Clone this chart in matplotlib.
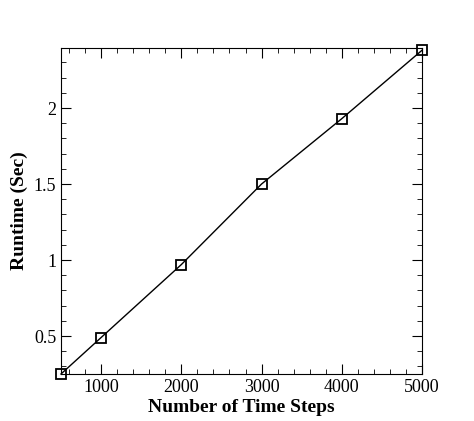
import matplotlib
matplotlib.use("Agg")
import matplotlib.pyplot as plt
from matplotlib.ticker import AutoMinorLocator

steps = [500, 1000, 2000, 3000, 4000, 5000]
runtime = [0.25, 0.49, 0.97, 1.50, 1.93, 2.38]

plt.rcParams['font.family'] = ['Liberation Serif', 'DejaVu Serif']
fig = plt.figure(figsize=(4.74, 4.21), dpi=100)
ax = fig.add_axes([61/474, 1-374/421, (422-61)/474, (374-48)/421])
ax.plot(steps, runtime, '-', color='black', lw=1, marker='s', mfc='none', mec='black', ms=7, mew=1.3, clip_on=False)
ax.set_xlim(500, 5000)
ax.set_ylim(0.25, 2.395)
ax.set_xticks([1000, 2000, 3000, 4000, 5000])
ax.set_yticks([0.5, 1, 1.5, 2])
ax.set_yticklabels(['0.5', '1', '1.5', '2'])
ax.xaxis.set_minor_locator(AutoMinorLocator(5))
ax.yaxis.set_minor_locator(AutoMinorLocator(5))
ax.tick_params(which='both', direction='in', top=True, right=True, labelsize=13)
ax.tick_params(which='major', length=7)
ax.tick_params(which='minor', length=3.5)
ax.set_xlabel('Number of Time Steps', fontsize=14, fontweight='bold', labelpad=2)
ax.set_ylabel('Runtime (Sec)', fontsize=14, fontweight='bold')
fig.savefig('out.png', dpi=100)
